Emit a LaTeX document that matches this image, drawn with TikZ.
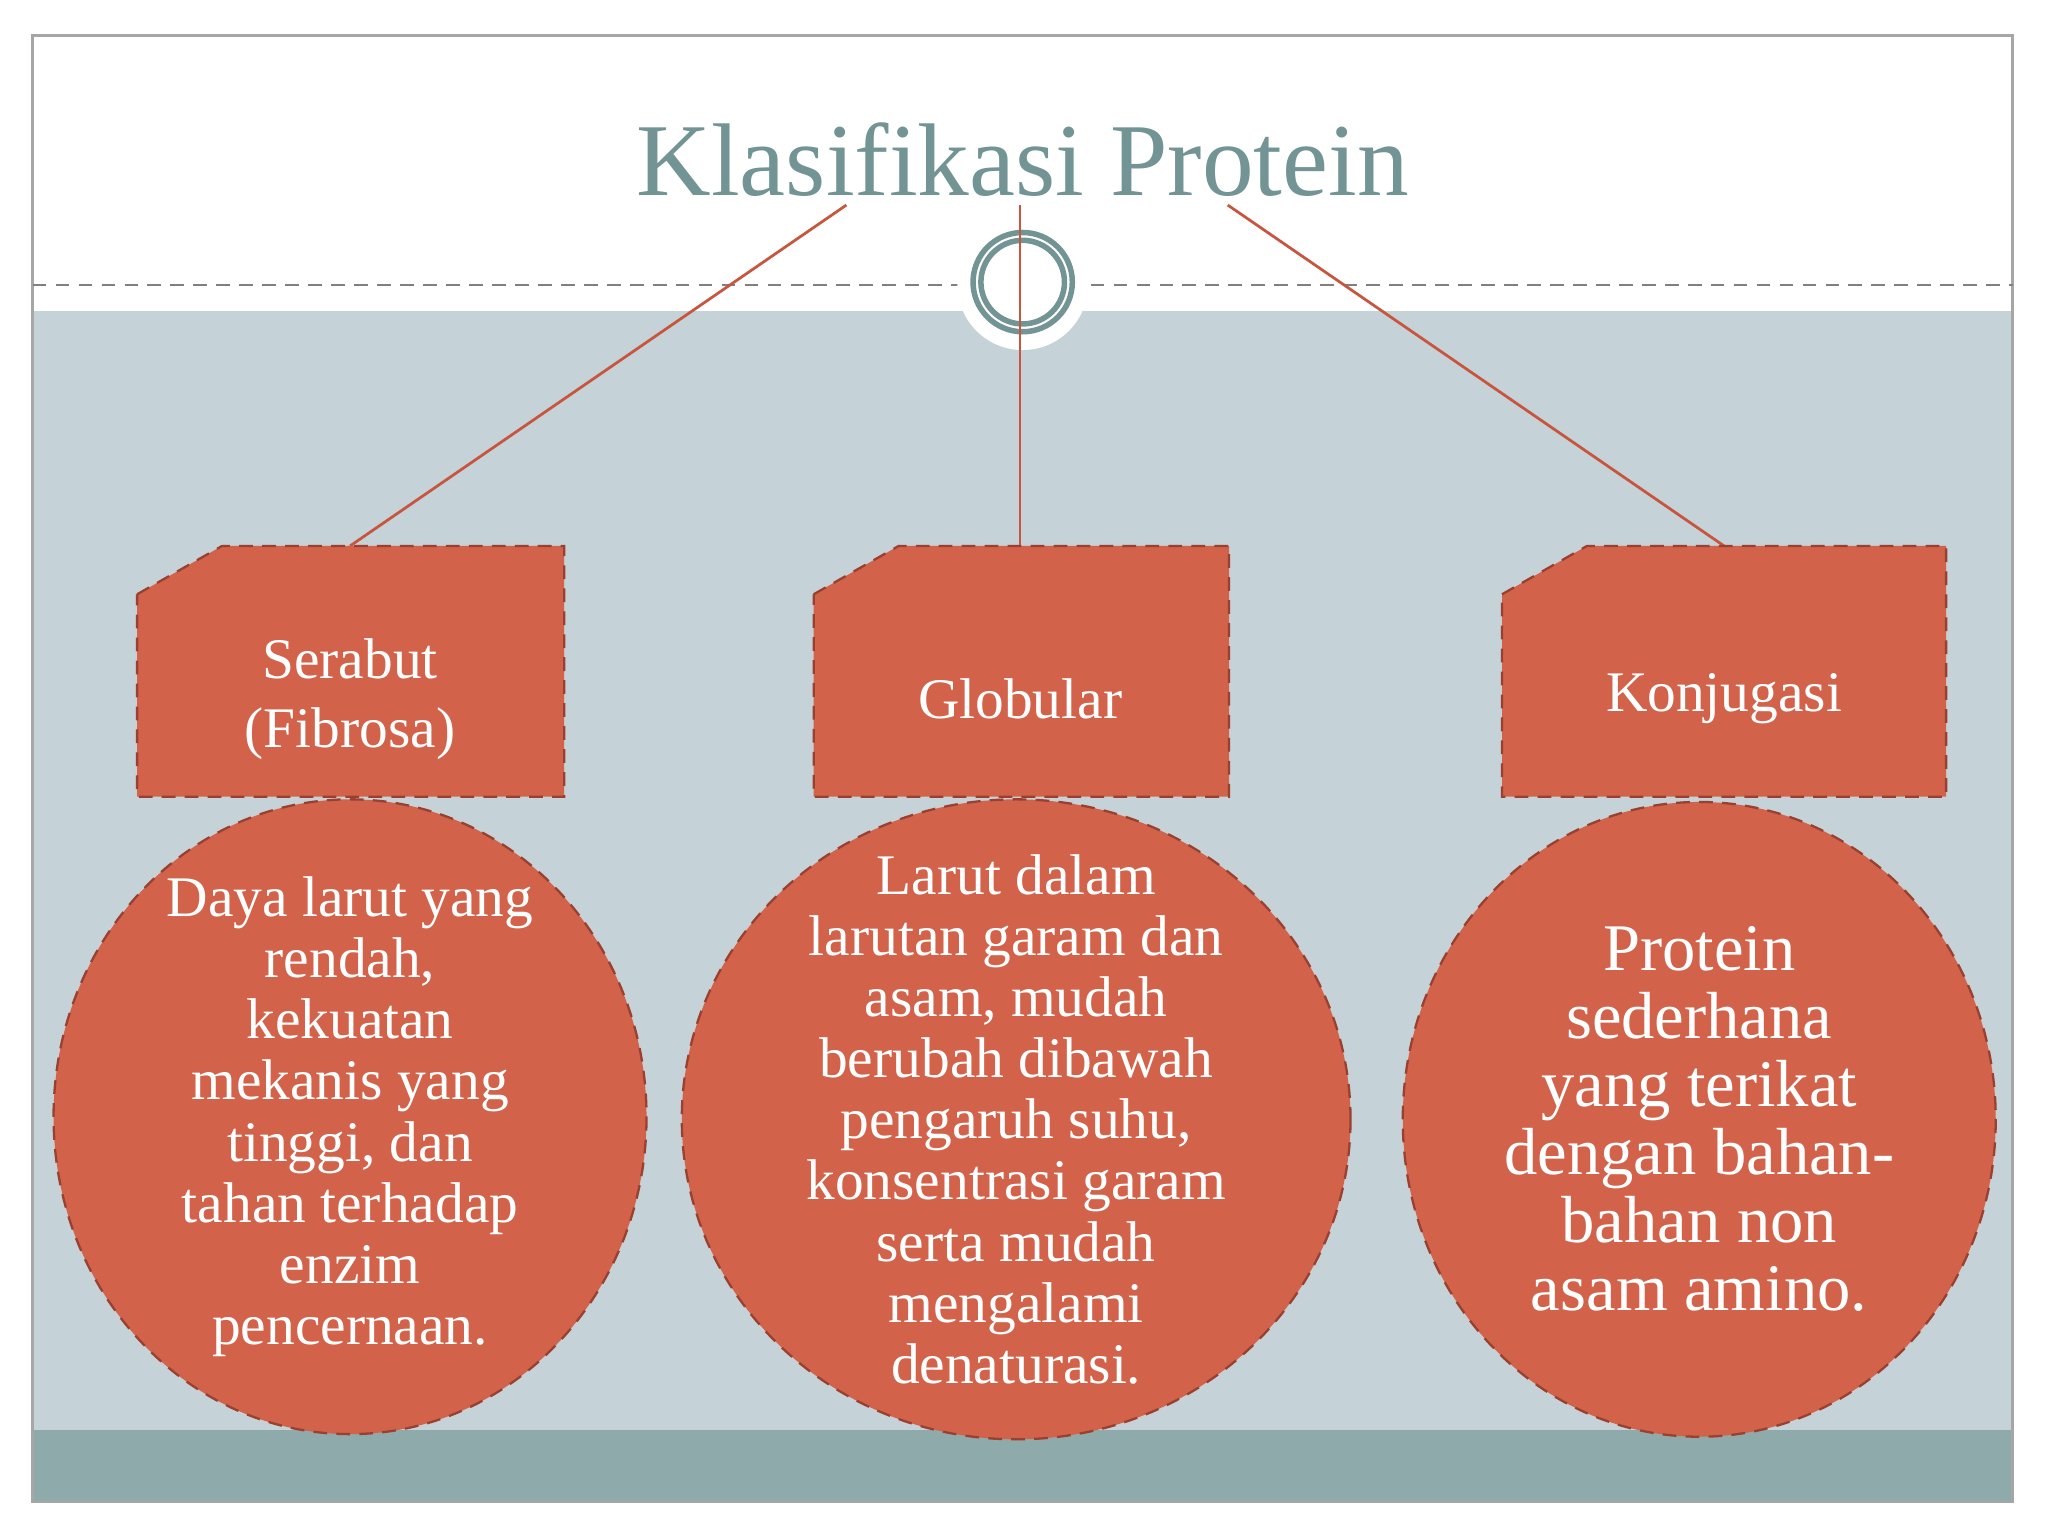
\documentclass[tikz,border=0pt]{standalone}
\usepackage{fontspec}
\setmainfont{Liberation Serif}
\usetikzlibrary{shapes.geometric}
\definecolor{band}{HTML}{C5D2D8}
\definecolor{foot}{HTML}{8FAAAA}
\definecolor{teal}{HTML}{729494}
\definecolor{rust}{HTML}{D2624A}
\definecolor{rustd}{HTML}{9A4030}
\definecolor{lnk}{HTML}{C8553E}
\begin{document}
\begin{tikzpicture}[x=0.01cm,y=-0.01cm,
  box/.style={fill=rust,draw=rustd,densely dashed,line width=0.5pt},
  blob/.style={fill=rust,draw=rustd,densely dashed,line width=0.5pt},
  btxt/.style={text=white,align=center,inner sep=0pt},
  lbl/.style={text=white,align=center,font=\fontsize{12.5}{15}\selectfont},
  link/.style={draw=lnk,line width=0.6pt}]
\useasboundingbox (0,0) rectangle (1568,1176);
\fill[white] (0,0) rectangle (1568,1176);
\fill[band] (25,238) rectangle (1541,1095);
\fill[foot] (25,1095) rectangle (1541,1150);
\draw[gray!70,line width=0.6pt] (25,27) rectangle (1541,1150);
\draw[gray,densely dashed,line width=0.4pt] (25,218) -- (740,218) (835,218) -- (1541,218);
\fill[white] (783,218) circle (50);
\draw[teal,line width=1.2pt] (783,216) circle (38);
\draw[teal,line width=1.2pt] (783,216) circle (32);
\node[text=teal,font=\fontsize{22.5}{27}\selectfont] (title) at (783,122) {Klasifikasi Protein};
\coordinate (t1) at (648,157);
\coordinate (t2) at (781,157);
\coordinate (t3) at (940,157);
\coordinate (b1) at (268,418);
\coordinate (b2) at (781,418);
\coordinate (b3) at (1320,418);
\draw[link] (t1) -- (b1);
\draw[link] (t2) -- (b2);
\draw[link] (t3) -- (b3);
\draw[box] (105,455) -- (170,418) -- (432,418) -- (432,610) -- (105,610) -- cycle;
\draw[box] (623,455) -- (688,418) -- (941,418) -- (941,610) -- (623,610) -- cycle;
\draw[box] (1150,455) -- (1215,418) -- (1490,418) -- (1490,610) -- (1150,610) -- cycle;
\node[lbl] (s) at (268,535) {Serabut\\(Fibrosa)};
\node[lbl] (g) at (781,535) {Globular};
\node[lbl] (k) at (1320,535) {Konjugasi};
\draw[blob] (268,855) ellipse [x radius=227, y radius=243];
\draw[blob] (778,857) ellipse [x radius=256, y radius=245];
\draw[blob] (1301,857) ellipse [x radius=227, y radius=243];
\node[btxt,font=\fontsize{12.5}{13.3}\selectfont] (c1) at (268,855) {Daya larut yang\\rendah,\\kekuatan\\mekanis yang\\tinggi, dan\\tahan terhadap\\enzim\\pencernaan.};
\node[btxt,font=\fontsize{12.5}{13.3}\selectfont] (c2) at (778,857) {Larut dalam\\larutan garam dan\\asam, mudah\\berubah dibawah\\pengaruh suhu,\\konsentrasi garam\\serta mudah\\mengalami\\denaturasi.};
\node[btxt,font=\fontsize{14.5}{14.8}\selectfont] (c3) at (1301,857) {Protein\\sederhana\\yang terikat\\dengan bahan-\\bahan non\\asam amino.};
\end{tikzpicture}
\end{document}
